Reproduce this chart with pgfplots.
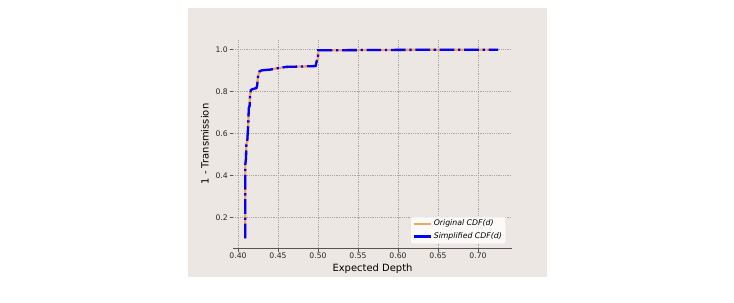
\documentclass[border=0pt]{standalone}
\usepackage{pgfplots}
\pgfplotsset{compat=1.18}
\usepackage{pgfplotstable}
\usepackage{fontspec}
\setmainfont{DejaVu Sans}
\definecolor{bgcol}{HTML}{ECE7E3}
\definecolor{origcol}{HTML}{F4A460}
\definecolor{gridcol}{HTML}{A8A8A8}
\definecolor{spinecol}{HTML}{555555}
\pgfplotstableread{
x y
0.4090 0.100
0.4090 0.300
0.4091 0.450
0.4100 0.480
0.4105 0.550
0.4115 0.560
0.4125 0.620
0.4130 0.660
0.4135 0.720
0.4145 0.730
0.4150 0.780
0.4160 0.805
0.4180 0.810
0.4230 0.815
0.4240 0.830
0.4250 0.870
0.4270 0.895
0.4300 0.900
0.4400 0.903
0.4500 0.910
0.4600 0.916
0.4800 0.918
0.4970 0.920
0.4985 0.945
0.5000 0.955
0.5003 0.995
0.5500 0.996
0.6000 0.997
0.7250 0.998
}\cdfdata
\begin{document}
\begin{tikzpicture}
\fill[white] (0bp,0bp) rectangle (734bp,303bp);
\fill[bgcol] (188bp,26bp) rectangle (547bp,295bp);
\begin{axis}[
  at={(233bp,55bp)}, anchor=south west,
  scale only axis, width=279bp, height=208bp,
  xmin=0.39375, xmax=0.7425, ymin=0.054, ymax=1.044,
  axis x line*=bottom, axis y line*=left,
  x axis line style={draw=spinecol, line width=0.9bp, -},
  y axis line style={draw=none},
  tick align=outside, tick pos=left,
  major tick length=3.5bp,
  every tick/.style={spinecol, line width=0.8bp},
  xtick={0.40,0.45,0.50,0.55,0.60,0.65,0.70},
  xticklabels={0.40,0.45,0.50,0.55,0.60,0.65,0.70},
  ytick={0.2,0.4,0.6,0.8,1.0},
  yticklabels={0.2,0.4,0.6,0.8,1.0},
  ticklabel style={font=\fontsize{7.7}{9}\selectfont, text=black!85},
  xticklabel style={inner sep=1.5bp},
  yticklabel style={inner sep=1.5bp},
  grid=major,
  grid style={gridcol, line width=0.6bp, dash pattern=on 0.8bp off 1bp},
  xlabel={Expected Depth}, ylabel={1 - Transmission},
  label style={font=\fontsize{9.3}{11}\selectfont, text=black!90},
  every axis x label/.style={at={(axis description cs:0.5,0)}, anchor=center, yshift=-20.3bp},
  every axis y label/.style={at={(axis description cs:0,0.5)}, xshift=-28bp, rotate=90, anchor=center},
  legend style={at={(1,0)}, anchor=south east, xshift=-6bp, yshift=4bp,
    font=\fontsize{7.8}{9}\selectfont\itshape, fill=white, fill opacity=0.8, text opacity=1,
    draw=gray!25, rounded corners=2bp, inner xsep=2bp, inner ysep=1.5bp,
    row sep=1.5bp},
  legend cell align=left,
  legend image code/.code={\draw[#1,solid] (0bp,0bp) -- (17bp,0bp);},
]
\addplot[origcol, line width=2.3bp, mark=none] table[x=x,y=y] {\cdfdata};
\addlegendentry{Original CDF(d)}
\addplot[blue, line width=2.3bp, mark=none, dash pattern=on 14.7bp off 3.7bp on 2.3bp off 3.7bp] table[x=x,y=y] {\cdfdata};
\addlegendentry{Simplified CDF(d)}
\end{axis}
\pgfresetboundingbox
\path[use as bounding box] (0bp,0bp) rectangle (734bp,303bp);
\end{tikzpicture}
\end{document}
